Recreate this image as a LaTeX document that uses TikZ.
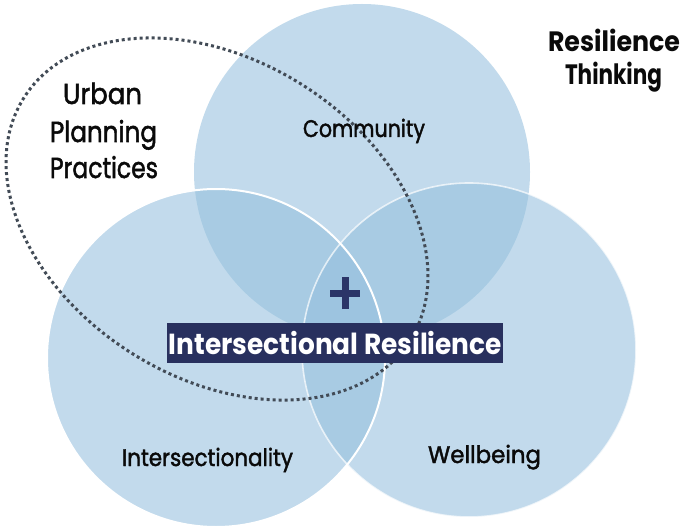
\documentclass[tikz,border=0pt]{standalone}
\usepackage{fontspec}
\setmainfont{Poppins}
\newfontfamily\popmed{Poppins}[FakeBold=1.8]
\newcommand\fitw[2]{\resizebox{#1}{\height}{#2}}
\definecolor{vennblue}{RGB}{149,192,222}
\definecolor{navy}{RGB}{40,48,94}
\definecolor{plusnavy}{RGB}{43,53,104}
\definecolor{dotgray}{RGB}{66,75,86}
\definecolor{labelblack}{RGB}{10,10,10}
\begin{document}
\begin{tikzpicture}[x=1pt,y=-1pt,
  venn/.style={circle, inner sep=0pt, outer sep=0pt, fill=vennblue, fill opacity=0.574},
  lbl/.style={anchor=base, inner sep=0pt, text=labelblack, font=\popmed\fontsize{24}{28}\selectfont},
  biglbl/.style={anchor=base, inner sep=0pt, text=labelblack, font=\popmed\fontsize{29}{34}\selectfont},
  boldlbl/.style={anchor=base, inner sep=0pt, text=labelblack, font=\bfseries\fontsize{28}{32}\selectfont},
  rim/.style={draw=white, line width=2pt},
  dotline/.style={draw=dotgray, line width=3pt, dash pattern=on 3pt off 3pt}
]
\useasboundingbox (0,0) rectangle (685,529);
\fill[white] (0,0) rectangle (685,529);
% circles
\node[venn, minimum size=336pt] (community) at (362,172) {};
\node[venn, minimum size=338pt] (inters) at (216,358) {};
\node[venn, minimum size=334pt] (wellb) at (469,350) {};
% white rims
\draw[rim] (inters.center) circle [radius=169pt];
\draw[rim, draw opacity=0.7, line width=1.6pt] (wellb.center) circle [radius=167pt];
% dotted ellipse
\coordinate (urbc) at (217,219);
\draw[dotline, shift={(urbc)}, rotate=-32] (0,0) ellipse [x radius=228pt, y radius=159pt];
% plus
\coordinate (plusc) at (345,293);
\draw[plusnavy, line width=7pt] ([xshift=-15pt]plusc) -- ([xshift=15pt]plusc)
  ([yshift=-16pt]plusc) -- ([yshift=16pt]plusc);
% title box
\node[fill=navy, minimum width=336pt, minimum height=40pt, inner sep=0pt] (box) at (335,343) {};
\node[anchor=base, inner sep=0pt, text=white, font=\bfseries\fontsize{29}{34}\selectfont] (ir) at (335.5,354) {\fitw{333pt}{Intersectional Resilience}};
% labels
\node[lbl] (lcom) at (364,137) {\fitw{122pt}{Community}};
\node[lbl] (lint) at (207.5,466) {\fitw{171pt}{Intersectionality}};
\node[lbl] (lwell) at (484.5,463) {\fitw{113pt}{Wellbeing}};
\node[biglbl] (u1) at (102.5,104) {\fitw{79pt}{Urban}};
\node[biglbl] (u2) at (103.5,142) {\fitw{107pt}{Planning}};
\node[biglbl] (u3) at (104,178) {\fitw{108pt}{Practices}};
\node[boldlbl] (r1) at (614,52) {\fitw{132pt}{Resilience}};
\node[boldlbl] (r2) at (613.5,85) {\fitw{97pt}{Thinking}};
\end{tikzpicture}
\end{document}
